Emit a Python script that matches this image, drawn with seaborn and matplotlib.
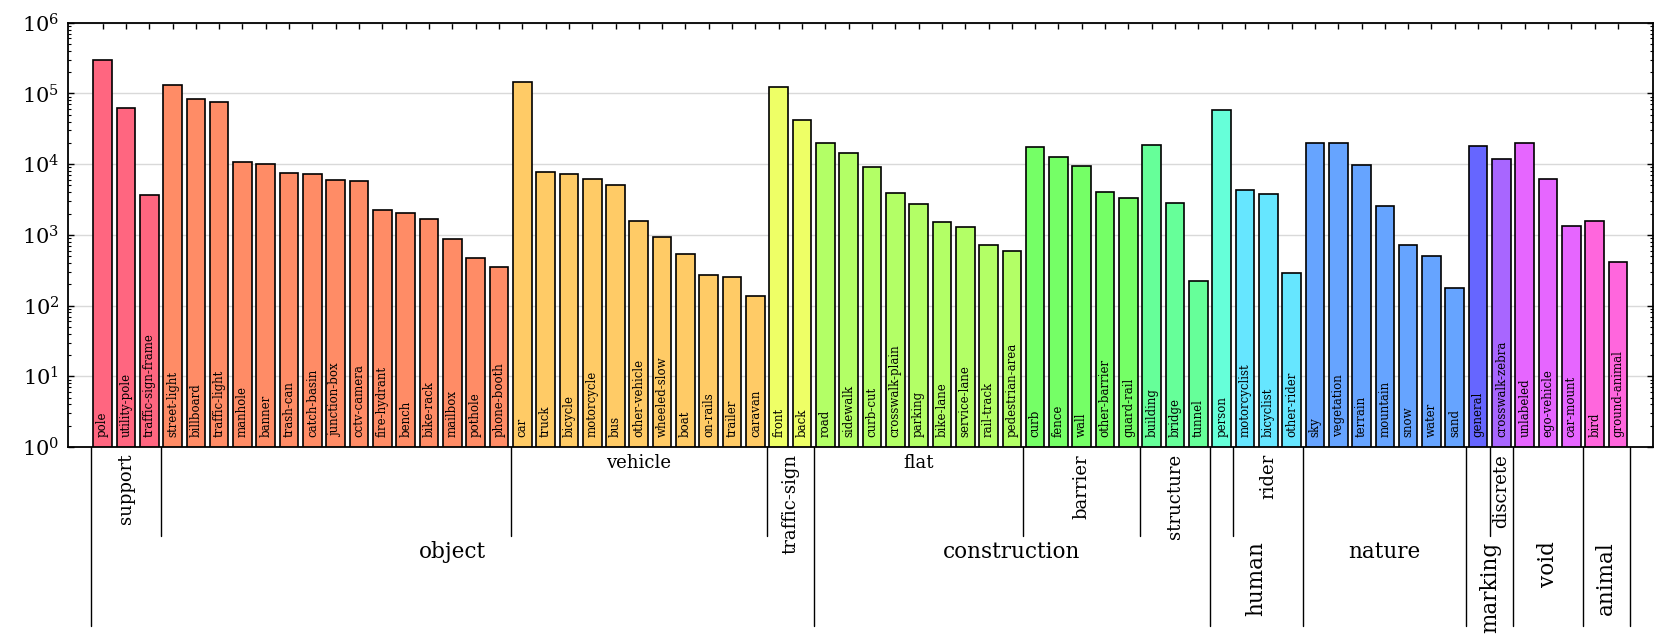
import numpy as np
import pandas as pd
import matplotlib
matplotlib.use("Agg")
import matplotlib.pyplot as plt
import seaborn as sns

# class names and instance counts (log scale)
names = ["pole", "utility-pole", "traffic-sign-frame",
         "street-light", "billboard", "traffic-light", "manhole", "banner", "trash-can",
         "catch-basin", "junction-box", "cctv-camera", "fire-hydrant", "bench", "bike-rack",
         "mailbox", "pothole", "phone-booth",
         "car", "truck", "bicycle", "motorcycle", "bus", "other-vehicle", "wheeled-slow",
         "boat", "on-rails", "trailer", "caravan",
         "front", "back",
         "road", "sidewalk", "curb-cut", "crosswalk-plain", "parking", "bike-lane",
         "service-lane", "rail-track", "pedestrian-area",
         "curb", "fence", "wall", "other-barrier", "guard-rail",
         "building", "bridge", "tunnel",
         "person",
         "motorcyclist", "bicyclist", "other-rider",
         "sky", "vegetation", "terrain", "mountain", "snow", "water", "sand",
         "general",
         "crosswalk-zebra",
         "unlabeled", "ego-vehicle", "car-mount",
         "bird", "ground-animal"]
counts = [293000, 62700, 3720,
          132600, 82200, 76300, 10600, 10200, 7540,
          7140, 5870, 5810, 2260, 2050, 1700,
          887, 477, 348,
          146000, 7630, 7140, 6200, 4990, 1580, 937,
          538, 272, 257, 137,
          123000, 41500,
          19800, 14600, 8970, 3970, 2720, 1500,
          1300, 714, 600,
          17200, 12800, 9370, 4100, 3370,
          18400, 2800, 226,
          58100,
          4240, 3760, 290,
          20000, 19600, 9680, 2570, 730, 505, 180,
          18000,
          12000,
          19600, 6070, 1355,
          1580, 410]

# hierarchy: sub groups (first level) and top groups (second level)
sub_groups = ["support", "", "vehicle", "traffic-sign", "flat", "barrier", "structure",
              "", "rider", "", "", "discrete", "", ""]
sub_sizes = [3, 15, 11, 2, 9, 5, 3, 1, 3, 7, 1, 1, 3, 2]
sub_colors = ["#ff6680", "#ff8c66", "#ffcb66", "#eeff66", "#b3ff66", "#75ff66", "#66ff99",
              "#66ffd9", "#66e6ff", "#66a4ff", "#6666ff", "#a866ff", "#e666ff", "#ff66dd"]
top_groups = ["object", "construction", "human", "nature", "marking", "void", "animal"]
top_sizes = [31, 17, 4, 7, 2, 3, 2]

sns.set_style("white")
plt.rcParams["font.family"] = "DejaVu Serif"
plt.rcParams["mathtext.fontset"] = "dejavuserif"
for k in ["text.color", "axes.labelcolor", "xtick.color", "ytick.color", "axes.edgecolor"]:
    plt.rcParams[k] = "black"

df = pd.DataFrame({"name": names, "count": counts})
bar_colors = list(np.repeat(sub_colors, sub_sizes))
n = len(names)

fig = plt.figure(figsize=(16.7, 6.38), dpi=100)
ax = fig.add_axes([0.0405, 0.2994, 0.9493, 0.665])
ax.set_yscale("log")
sns.barplot(data=df, x="name", y="count", hue="name", palette=bar_colors, legend=False,
            edgecolor="black", linewidth=1.2, width=0.8, saturation=1, ax=ax)

ax.set_yscale("log")
ax.set_ylim(1, 1e6)
ax.set_xlim(-1.5, n - 0.5 + 1)
ax.set_xlabel("")
ax.set_ylabel("")
ax.set_xticks(range(n))
ax.set_xticklabels([])
ax.tick_params(axis="x", bottom=False, top=True, direction="in", length=4, width=1)
ax.tick_params(axis="y", which="both", left=True, right=True, direction="in", labelsize=15, pad=6)
ax.tick_params(axis="y", which="major", length=4, width=1)
ax.tick_params(axis="y", which="minor", length=2.2, width=0.8)
ax.yaxis.grid(True, which="major", color="#d9d9d9", linewidth=1)
ax.set_axisbelow(True)
for s in ax.spines.values():
    s.set_linewidth(1.3)
    s.set_color("black")

tr = ax.get_xaxis_transform()

# names inside the bars
for i, name in enumerate(names):
    ax.text(i, 0.024, name, transform=tr, rotation=90, ha="center", va="bottom", fontsize=8.5)

# group brackets under the axis
y_sub = -0.2098
y_top = -0.4212
top_edges = np.concatenate([[0], np.cumsum(top_sizes)]) - 0.5
sub_edges = np.concatenate([[0], np.cumsum(sub_sizes)]) - 0.5
for x in sub_edges:
    if x not in top_edges:
        ax.plot([x, x], [0, y_sub], transform=tr, color="black", lw=1, clip_on=False)
for x in top_edges:
    ax.plot([x, x], [0, y_top], transform=tr, color="black", lw=1, clip_on=False)

for lab, a, b in zip(sub_groups, sub_edges[:-1], sub_edges[1:]):
    if not lab:
        continue
    rot = 0 if (b - a) >= 9 else 90
    ax.text((a + b) / 2, -0.0165, lab, transform=tr, rotation=rot, ha="center", va="top",
            fontsize=13)
for lab, a, b in zip(top_groups, top_edges[:-1], top_edges[1:]):
    rot = 0 if (b - a) >= 7 else 90
    ax.text((a + b) / 2, -0.2227, lab, transform=tr, rotation=rot, ha="center", va="top",
            fontsize=15.5)

fig.savefig("out.png", dpi=100)
